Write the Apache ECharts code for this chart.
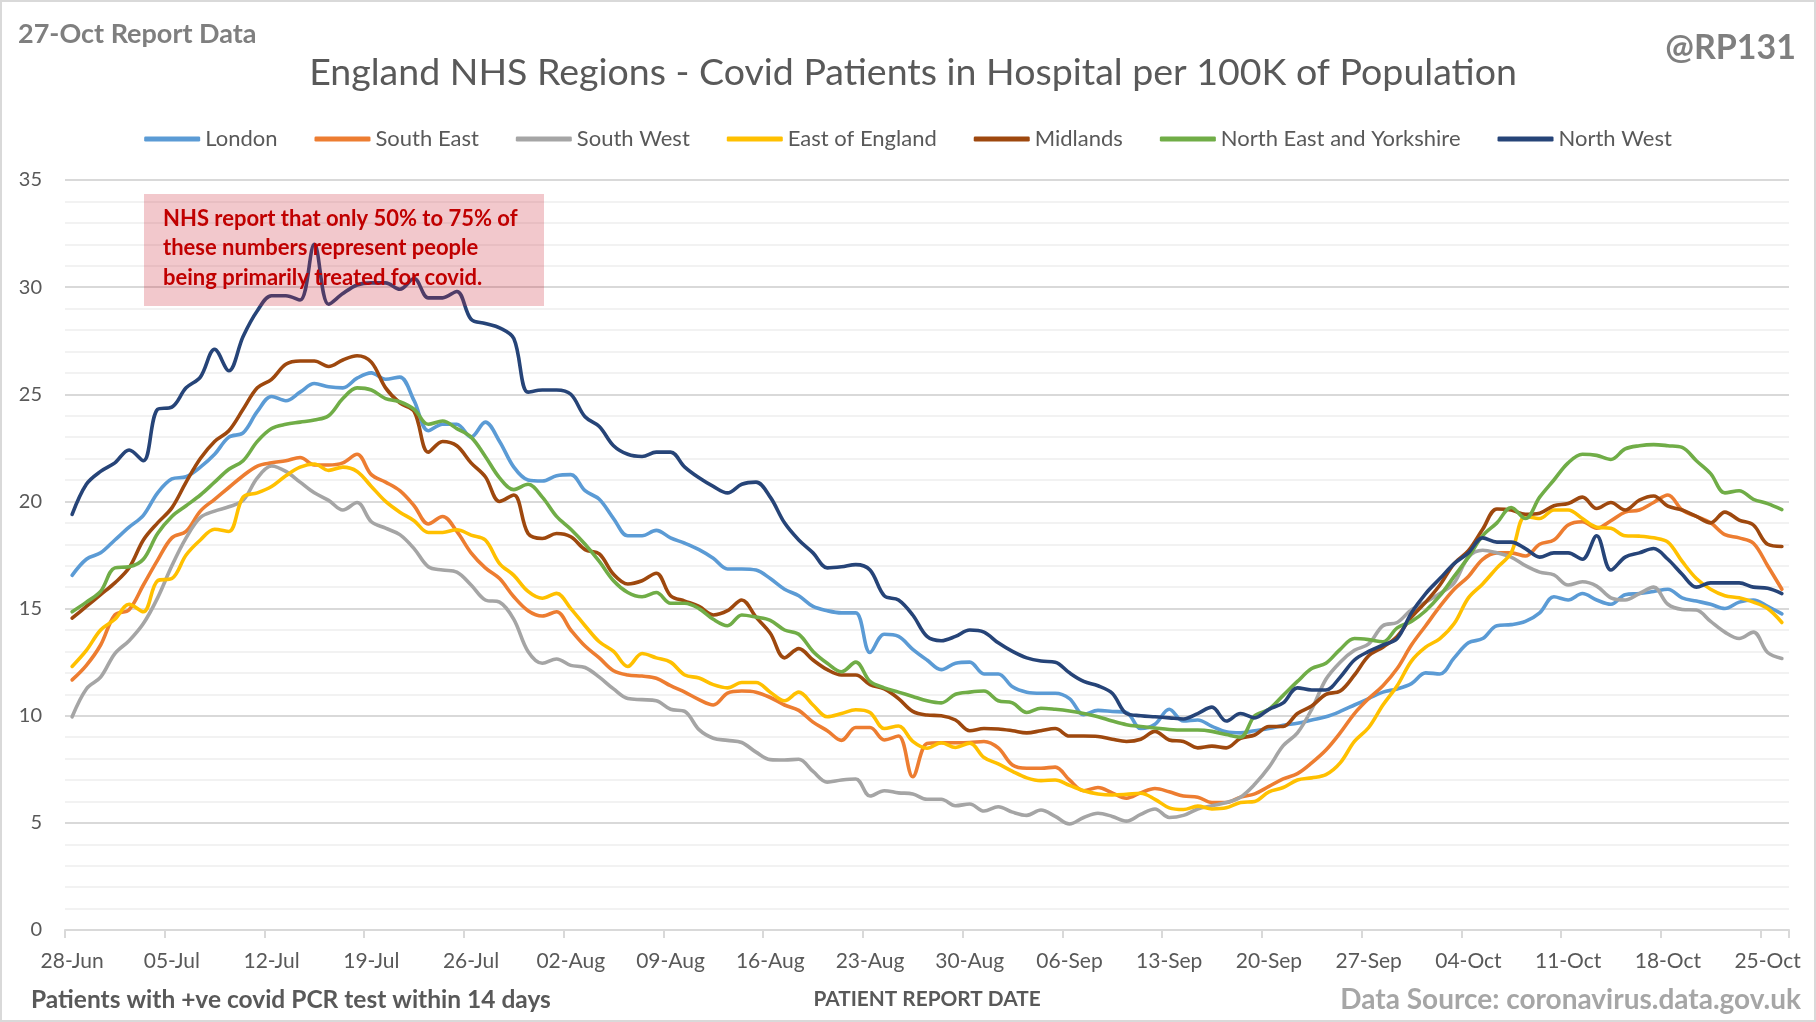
<!DOCTYPE html>
<html>
<head>
<meta charset="utf-8">
<title>England NHS Regions - Covid Patients in Hospital per 100K</title>
<script src="https://cdn.jsdelivr.net/npm/echarts@6/dist/echarts.min.js"></script>
<style>
  html, body { margin: 0; padding: 0; background: #fff; }
  #main { width: 1816px; height: 1022px; }
</style>
</head>
<body>
<div id="main"></div>
<script>
// daily dates 28-Jun .. 26-Oct (2021)
var monthNames = ['Jan', 'Feb', 'Mar', 'Apr', 'May', 'Jun', 'Jul', 'Aug', 'Sep', 'Oct', 'Nov', 'Dec']
var dates = []
var day = new Date(2021, 5, 28)
for (var i = 0; i < 121; i++) {
  var dd = day.getDate()
  dates.push((dd < 10 ? '0' + dd : '' + dd) + '-' + monthNames[day.getMonth()])
  day.setDate(dd + 1)
}

// patients in hospital per 100K
var london = [
  16.55, 17.3, 17.6, 18.2, 18.8, 19.35, 20.4, 21.05, 21.15, 21.6,
  22.2, 23.0, 23.2, 24.2, 24.9, 24.7, 25.1, 25.5, 25.35, 25.3,
  25.75, 26.0, 25.7, 25.8, 24.7, 23.3, 23.6, 23.6, 23.0, 23.7,
  22.8, 21.6, 21.0, 20.95, 21.2, 21.25, 20.5, 20.1, 19.2, 18.4,
  18.4, 18.65, 18.3, 18.05, 17.75, 17.35, 16.85, 16.85, 16.8, 16.4,
  15.9, 15.6, 15.1, 14.9, 14.8, 14.8, 12.95, 13.8, 13.7, 13.1,
  12.6, 12.15, 12.45, 12.5, 11.95, 11.95, 11.35, 11.1, 11.05, 11.05,
  10.8, 10.05, 10.25, 10.2, 10.15, 9.4, 9.6, 10.3, 9.75, 9.8,
  9.5, 9.25, 9.2, 9.3, 9.4, 9.55, 9.65, 9.8, 9.95, 10.2,
  10.5, 10.8, 11.1, 11.25, 11.5, 12.0, 11.95, 12.7, 13.4, 13.6,
  14.2, 14.25, 14.4, 14.8, 15.55, 15.4, 15.7, 15.4, 15.2, 15.65,
  15.7, 15.8, 15.9, 15.5, 15.35, 15.2, 15.0, 15.3, 15.4, 15.1,
  14.75
]
var southEast = [
  11.67, 12.35, 13.3, 14.7, 14.95, 16.1, 17.26, 18.3, 18.6, 19.55,
  20.1, 20.65, 21.2, 21.65, 21.8, 21.9, 22.05, 21.7, 21.7, 21.8,
  22.2, 21.25, 20.9, 20.5, 19.8, 18.95, 19.3, 18.6, 17.6, 16.9,
  16.4, 15.55, 14.9, 14.65, 14.85, 14.0, 13.25, 12.7, 12.1, 11.9,
  11.85, 11.75, 11.4, 11.1, 10.75, 10.5, 11.05, 11.15, 11.1, 10.85,
  10.5, 10.25, 9.7, 9.3, 8.85, 9.45, 9.45, 8.87, 9.05, 7.15,
  8.7, 8.74, 8.74, 8.75, 8.8, 8.5, 7.7, 7.55, 7.55, 7.6,
  7.0, 6.5, 6.65, 6.4, 6.15, 6.4, 6.6, 6.45, 6.25, 6.2,
  5.95, 5.95, 6.2, 6.35, 6.7, 7.05, 7.3, 7.8, 8.4, 9.2,
  10.1, 10.8, 11.4, 12.2, 13.3, 14.2, 15.1, 15.9, 16.5, 17.3,
  17.6, 17.6, 17.45, 18.0, 18.2, 18.9, 19.05, 18.75, 19.1, 19.5,
  19.6, 19.95, 20.3, 19.6, 19.3, 19.0, 18.45, 18.3, 18.05, 17.0,
  15.9
]
var southWest = [
  9.95, 11.25, 11.8, 12.9, 13.5, 14.3, 15.5, 17.0, 18.3, 19.25,
  19.55, 19.75, 20.05, 21.1, 21.65, 21.4, 20.9, 20.4, 20.05, 19.6,
  19.95, 19.05, 18.75, 18.45, 17.8, 16.95, 16.8, 16.7, 16.1, 15.4,
  15.3, 14.5, 13.0, 12.45, 12.65, 12.35, 12.25, 11.8, 11.25, 10.8,
  10.75, 10.7, 10.3, 10.2, 9.35, 8.95, 8.85, 8.75, 8.3, 7.95,
  7.93, 7.97, 7.4, 6.9, 7.0, 7.05, 6.25, 6.5, 6.4, 6.35,
  6.1, 6.1, 5.8, 5.88, 5.55, 5.75, 5.5, 5.35, 5.6, 5.3,
  4.95, 5.25, 5.45, 5.3, 5.08, 5.4, 5.65, 5.25, 5.35, 5.65,
  5.8, 5.95, 6.2, 6.8, 7.6, 8.6, 9.2, 10.3, 11.7, 12.5,
  13.05, 13.35, 14.2, 14.35, 14.95, 15.3, 15.7, 16.2, 17.4, 17.72,
  17.6, 17.4, 17.0, 16.7, 16.57, 16.1, 16.25, 16.05, 15.5, 15.4,
  15.7, 16.0, 15.2, 14.96, 14.93, 14.4, 13.9, 13.6, 13.9, 12.95,
  12.67
]
var eastOfEngland = [
  12.3, 13.05, 14.0, 14.5, 15.2, 14.85, 16.3, 16.4, 17.5, 18.2,
  18.7, 18.6, 20.2, 20.4, 20.7, 21.2, 21.6, 21.75, 21.45, 21.6,
  21.4, 20.7, 20.0, 19.5, 19.1, 18.55, 18.55, 18.68, 18.43, 18.2,
  17.1, 16.55, 15.8, 15.48, 15.71, 15.0, 14.2, 13.45, 13.0, 12.3,
  12.9, 12.7, 12.5, 11.9, 11.76, 11.45, 11.3, 11.55, 11.55, 11.1,
  10.7, 11.1, 10.5, 9.95, 10.1, 10.28, 10.15, 9.4, 9.52, 8.8,
  8.48, 8.74, 8.52, 8.72, 8.05, 7.75, 7.4, 7.1, 6.97, 7.0,
  6.75, 6.5, 6.35, 6.3, 6.33, 6.38, 6.1, 5.7, 5.62, 5.78,
  5.65, 5.7, 5.95, 6.0, 6.45, 6.65, 7.0, 7.1, 7.25, 7.8,
  8.8, 9.45, 10.5, 11.4, 12.55, 13.2, 13.6, 14.3, 15.5, 16.15,
  16.9, 17.6, 19.3, 19.2, 19.6, 19.6, 19.2, 18.8, 18.75, 18.4,
  18.38, 18.3, 18.1, 17.2, 16.4, 15.9, 15.6, 15.5, 15.3, 15.0,
  14.35
]
var midlands = [
  14.55, 15.1, 15.65, 16.2, 16.9, 18.2, 19.0, 19.7, 20.9, 22.0,
  22.8, 23.3, 24.3, 25.3, 25.7, 26.4, 26.55, 26.55, 26.3, 26.6,
  26.8, 26.5, 25.3, 24.6, 24.2, 22.3, 22.8, 22.6, 21.8, 21.15,
  20.0, 20.3, 18.5, 18.27, 18.5, 18.35, 17.75, 17.55, 16.6, 16.15,
  16.3, 16.65, 15.6, 15.35, 15.1, 14.7, 14.9, 15.4, 14.6, 13.85,
  12.7, 13.13, 12.6, 12.15, 11.9, 11.9, 11.45, 11.25, 10.8, 10.2,
  10.03, 10.0, 9.8, 9.3, 9.4, 9.38, 9.3, 9.2, 9.3, 9.4,
  9.05, 9.05, 9.03, 8.9, 8.8, 8.9, 9.27, 8.87, 8.8, 8.5,
  8.58, 8.5, 8.94, 9.1, 9.5, 9.5, 10.1, 10.45, 11.0, 11.15,
  11.9, 12.8, 13.2, 13.7, 14.6, 15.3, 16.1, 17.1, 17.7, 18.7,
  19.65, 19.6, 19.4, 19.45, 19.8, 19.9, 20.2, 19.67, 19.95, 19.6,
  20.06, 20.25, 19.78, 19.6, 19.3, 19.0, 19.5, 19.13, 18.9, 18.0,
  17.9
]
var northEastYorks = [
  14.85, 15.3, 15.8, 16.9, 16.95, 17.3, 18.5, 19.3, 19.8, 20.3,
  20.9, 21.5, 21.9, 22.8, 23.4, 23.6, 23.7, 23.8, 24.0, 24.8,
  25.3, 25.2, 24.8, 24.65, 24.3, 23.6, 23.75, 23.4, 23.0, 22.1,
  21.1, 20.55, 20.8, 20.2, 19.3, 18.7, 18.0, 17.2, 16.3, 15.75,
  15.55, 15.75, 15.25, 15.25, 15.0, 14.5, 14.2, 14.7, 14.6, 14.45,
  14.0, 13.8, 13.0, 12.45, 12.05, 12.5, 11.6, 11.3, 11.1, 10.9,
  10.7, 10.6, 11.0, 11.1, 11.15, 10.7, 10.6, 10.15, 10.35, 10.3,
  10.22, 10.1, 9.95, 9.75, 9.58, 9.5, 9.43, 9.36, 9.33, 9.33,
  9.27, 9.12, 9.0, 10.0, 10.3, 10.95, 11.6, 12.2, 12.45, 13.1,
  13.6, 13.55, 13.45, 14.1, 14.4, 14.9, 15.6, 16.5, 17.4, 18.4,
  19.0, 19.72, 19.2, 20.2, 21.0, 21.8, 22.2, 22.15, 21.96, 22.45,
  22.6, 22.65, 22.6, 22.52, 21.9, 21.3, 20.4, 20.5, 20.1, 19.9,
  19.62
]
var northWest = [
  19.4, 20.8, 21.4, 21.8, 22.4, 21.9, 24.3, 24.4, 25.3, 25.8,
  27.1, 26.1, 27.7, 28.9, 29.6, 29.6, 29.4, 32.0, 29.2, 29.7,
  30.1, 30.2, 30.2, 29.9, 30.4, 29.5, 29.5, 29.8, 28.5, 28.3,
  28.1, 27.6, 25.1, 25.2, 25.2, 25.0, 23.95, 23.5, 22.6, 22.2,
  22.1, 22.3, 22.3, 21.6, 21.1, 20.7, 20.4, 20.8, 20.9, 20.2,
  19.0, 18.2, 17.6, 16.9, 16.95, 17.05, 16.8, 15.6, 15.4, 14.7,
  13.7, 13.5, 13.7, 14.0, 13.9, 13.4, 13.0, 12.7, 12.55, 12.5,
  12.0, 11.6, 11.4, 11.05, 10.1, 10.0, 9.95, 9.9, 9.85, 10.1,
  10.4, 9.75, 10.1, 9.9, 10.3, 10.6, 11.3, 11.2, 11.2, 11.8,
  12.6, 13.0, 13.3, 13.6, 14.8, 15.7, 16.4, 17.1, 17.6, 18.3,
  18.1, 18.1, 17.8, 17.4, 17.6, 17.6, 17.3, 18.4, 16.8, 17.4,
  17.6, 17.8, 17.3, 16.6, 16.0, 16.2, 16.2, 16.2, 16.0, 15.95,
  15.7
]

var regionNames = ['London', 'South East', 'South West', 'East of England', 'Midlands', 'North East and Yorkshire', 'North West']
var regionData = [london, southEast, southWest, eastOfEngland, midlands, northEastYorks, northWest]
var regionColors = ['#5b9bd5', '#ed7d31', '#a5a5a5', '#ffc000', '#9e480e', '#70ad47', '#264478']

var yTicks = [0, 5, 10, 15, 20, 25, 30, 35]

var font = 'Lato, "Open Sans", sans-serif'

var series = []
for (var r = 0; r < regionNames.length; r++) {
  series.push({
    name: regionNames[r],
    type: 'line',
    data: regionData[r],
    smooth: 0.35,
    showSymbol: false,
    symbol: 'none',
    lineStyle: { width: 3.6, color: regionColors[r], cap: 'round', join: 'round' },
    itemStyle: { color: regionColors[r] }
  })
}

var chart = echarts.init(document.getElementById('main'), null, { renderer: 'canvas' })

var option = {
  backgroundColor: '#fff',
  animation: false,
  color: regionColors,
  textStyle: { fontFamily: font },
  legend: {
    data: regionNames,
    top: 128,
    left: 'center',
    padding: 0,
    itemGap: 37,
    itemWidth: 56,
    itemHeight: 5,
    icon: 'roundRect',
    textStyle: { color: '#595959', fontSize: 22, fontFamily: font }
  },
  grid: {
    left: 65,
    right: 27,
    top: 180,
    bottom: 92,
    containLabel: false
  },
  xAxis: {
    type: 'category',
    data: dates,
    boundaryGap: true,
    axisLine: { show: true, lineStyle: { color: '#d9d9d9', width: 2 } },
    axisTick: { show: true, interval: 6, length: 8, lineStyle: { color: '#d9d9d9', width: 2 } },
    axisLabel: { interval: 6, color: '#595959', fontSize: 21, margin: 21, fontFamily: font },
    splitLine: { show: false }
  },
  yAxis: {
    type: 'value',
    min: yTicks[0],
    max: yTicks[yTicks.length - 1],
    interval: 5,
    axisLine: { show: false },
    axisTick: { show: false },
    axisLabel: { color: '#595959', fontSize: 20, margin: 23, fontFamily: font },
    splitLine: { show: true, lineStyle: { color: '#d9d9d9', width: 2 } },
    minorTick: { show: false, splitNumber: 5 },
    minorSplitLine: { show: true, lineStyle: { color: '#f2f2f2', width: 2 } }
  },
  graphic: [
    {
      type: 'rect',
      silent: true,
      z: -10,
      shape: { x: 1, y: 1, width: 1814, height: 1020 },
      style: { fill: 'none', stroke: '#d9d9d9', lineWidth: 2 }
    },
    {
      type: 'text',
      silent: true,
      style: {
        text: '27-Oct Report Data', x: 18, y: 34,
        textVerticalAlign: 'middle', fill: '#7f7f7f',
        fontSize: 27, fontWeight: 'bold', fontFamily: font
      }
    },
    {
      type: 'text',
      silent: true,
      style: {
        text: '@RP131', x: 1796, y: 48, textAlign: 'right',
        textVerticalAlign: 'middle', fill: '#7f7f7f',
        fontSize: 34, fontWeight: 'bold', fontFamily: font
      }
    },
    {
      type: 'text',
      silent: true,
      style: {
        text: 'England NHS Regions - Covid Patients in Hospital per 100K of Population',
        x: 913, y: 73, textAlign: 'center', textVerticalAlign: 'middle',
        fill: '#595959', fontSize: 37.5, fontFamily: font
      }
    },
    {
      type: 'rect',
      silent: true,
      z: 50,
      shape: { x: 144, y: 194, width: 400, height: 112 },
      style: { fill: 'rgba(203,35,51,0.25)' }
    },
    {
      type: 'text',
      silent: true,
      z: 51,
      style: {
        text: 'NHS report that only 50% to 75% of\nthese numbers represent people\nbeing primarily treated for covid.',
        x: 163, y: 204, textVerticalAlign: 'top', lineHeight: 29.5,
        fill: '#c00000', fontSize: 22, fontWeight: 'bold', fontFamily: font
      }
    },
    {
      type: 'text',
      silent: true,
      style: {
        text: 'Patients with +ve covid PCR test within 14 days', x: 31, y: 1000,
        textVerticalAlign: 'middle', fill: '#595959',
        fontSize: 24.5, fontWeight: 'bold', fontFamily: font
      }
    },
    {
      type: 'text',
      silent: true,
      style: {
        text: 'PATIENT REPORT DATE', x: 927, y: 999, textAlign: 'center',
        textVerticalAlign: 'middle', fill: '#595959',
        fontSize: 20.8, fontWeight: 'bold', fontFamily: font
      }
    },
    {
      type: 'text',
      silent: true,
      style: {
        text: 'Data Source: coronavirus.data.gov.uk', x: 1801, y: 1000, textAlign: 'right',
        textVerticalAlign: 'middle', fill: '#a6a6a6',
        fontSize: 28, fontWeight: 'bold', fontFamily: font
      }
    }
  ],
  series: series
}

chart.setOption(option)
</script>
</body>
</html>
